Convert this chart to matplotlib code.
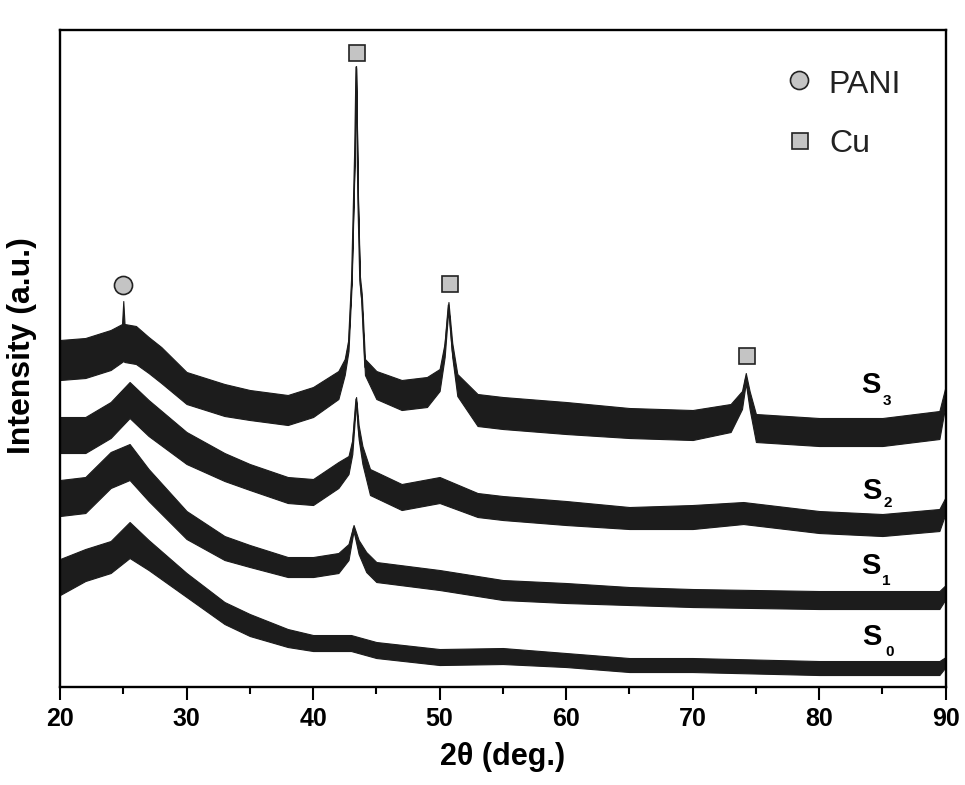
import matplotlib

matplotlib.use("Agg")

import matplotlib.pyplot as plt
import numpy as np
from matplotlib.ticker import MultipleLocator

plt.rcParams["font.family"] = ["Liberation Sans", "DejaVu Sans"]

# XRD traces: 2theta, mean intensity, half-width of the noise band (a.u.)
x_s3 = [20, 22, 24, 24.9, 25.0, 25.1, 26, 27, 28, 30, 33, 35, 38, 40, 42, 42.5, 42.8, 43.05, 43.3,
        43.4, 43.55, 43.7, 43.85, 44.1, 45, 47, 49, 50.0, 50.4, 50.7, 51.0, 51.4, 53, 55, 60,
        65, 70, 73, 73.9, 74.2, 74.5, 75, 80, 85, 89.5, 90]
y_s3 = [327, 329, 337, 344, 356, 344, 342, 332, 322, 299, 287, 282, 277, 285, 302, 320, 342, 407, 537,
        620, 487, 407, 387, 320, 302, 292, 295, 307, 337, 382, 337, 302, 277, 274, 269,
        264, 262, 269, 287, 309, 287, 259, 255, 255, 262, 292]
w_s3 = [20, 20, 20, 19, 30, 19, 19, 18, 18, 16, 16, 15, 15, 15, 14, 8, 6, 4, 3,
        1, 3, 4, 6, 8, 14, 15, 15, 11, 7, 3, 7, 11, 16, 16, 16,
        15, 15, 14, 9, 5, 9, 14, 14, 14, 14, 9]

x_s2 = [20, 22, 24, 25.5, 27, 30, 33, 35, 38, 40, 42, 42.8, 43.1, 43.4, 43.6, 43.9, 44.5, 47,
        50, 53, 55, 60, 65, 70, 74, 80, 85, 89.5, 90]
y_s2 = [252, 252, 267, 287, 269, 239, 220, 210, 197, 195, 212, 222, 240, 288, 255, 232, 205, 190,
        197, 182, 179, 174, 169, 170, 174, 165, 162, 167, 182]
w_s2 = [18, 18, 18, 18, 18, 16, 14, 13, 13, 13, 13, 9, 7, 2, 7, 9, 13, 13,
        13, 12, 12, 12, 11, 12, 11, 11, 11, 11, 8]

x_s1 = [20, 22, 24, 25.5, 27, 30, 33, 35, 38, 40, 42, 42.8, 43.2, 43.6, 44.2, 45, 50, 55, 60,
        65, 70, 80, 89.5, 90]
y_s1 = [189, 192, 217, 225, 202, 162, 139, 131, 120, 120, 124, 135, 159, 140, 125, 115, 107, 97, 94,
        91, 89, 87, 87, 95]
w_s1 = [18, 18, 18, 18, 16, 14, 12, 11, 10, 10, 10, 8, 3, 7, 10, 10, 10, 10, 10,
        9, 9, 9, 9, 7]

x_s0 = [20, 22, 24, 25.5, 27, 30, 33, 35, 38, 40, 43, 45, 50, 55, 60, 65, 70, 80, 89.5, 90]
y_s0 = [110, 122, 130, 147, 132, 102, 74, 62, 49, 44, 44, 37, 30, 31, 27, 22, 22, 19, 19, 25]
w_s0 = [18, 16, 16, 18, 15, 12, 11, 11, 9, 8, 8, 8, 8, 8, 7, 7, 7, 7, 7, 5]

series = [
    ("3", x_s3, y_s3, w_s3),
    ("2", x_s2, y_s2, w_s2),
    ("1", x_s1, y_s1, w_s1),
    ("0", x_s0, y_s0, w_s0),
]

# sample labels: (x, baseline) for "S" and its subscript
label_pos = {
    "3": ((83.3, 294), (85.0, 282)),
    "2": ((83.4, 188), (85.1, 180)),
    "1": ((83.3, 113), (85.0, 102)),
    "0": ((83.4, 42), (85.2, 31)),
}

# phase markers above the peaks
pani_x = [25.0]
pani_y = [402]
cu_x = [43.5, 50.8, 74.3]
cu_y = [634, 403, 331]

x_ticks = [20, 30, 40, 50, 60, 70, 80, 90]

trace_color = "#1c1c1c"

fig = plt.figure(figsize=(9.65, 7.85), dpi=100)
ax = fig.add_axes([0.0622, 0.1248, 0.9178, 0.837])

for name, xs, ys, ws in series:
    xs = np.asarray(xs, dtype=float)
    ys = np.asarray(ys, dtype=float)
    ws = np.asarray(ws, dtype=float)
    ax.fill_between(xs, ys - ws, ys + ws, color=trace_color, linewidth=0.8)
    ax.plot(xs, ys, color=trace_color, linewidth=1.0)
    (sx, sy), (dx, dy) = label_pos[name]
    ax.text(sx, sy, "S", fontsize=21, fontweight="bold", ha="left", va="baseline")
    ax.text(dx, dy, name, fontsize=11, fontweight="bold", ha="left", va="baseline")

marker_style = dict(linestyle="none", markerfacecolor="#c4c4c4", markeredgecolor="#222222",
                    markeredgewidth=1.2, clip_on=False, zorder=5)
ax.plot(pani_x, pani_y, marker="o", markersize=13, **marker_style)
ax.plot(cu_x, cu_y, marker="s", markersize=11.5, **marker_style)

# legend drawn by hand, as in the figure
ax.plot([0.834], [0.924], marker="o", markersize=13, transform=ax.transAxes, **marker_style)
ax.plot([0.836], [0.831], marker="s", markersize=11.5, transform=ax.transAxes, **marker_style)
ax.text(0.868, 0.904, "PANI", fontsize=23, transform=ax.transAxes, va="baseline", color="#222222")
ax.text(0.869, 0.814, "Cu", fontsize=23, transform=ax.transAxes, va="baseline", color="#222222")

ax.set_xlim(20, 90)
ax.set_ylim(0, 657)
ax.set_xticks(x_ticks)
ax.xaxis.set_minor_locator(MultipleLocator(5))
ax.set_yticks([])
ax.tick_params(axis="x", which="major", direction="out", length=9.5, width=1.5,
               labelsize=18, pad=5)
ax.tick_params(axis="x", which="minor", direction="out", length=5, width=1.5)
for label in ax.get_xticklabels():
    label.set_fontweight("bold")
for spine in ax.spines.values():
    spine.set_linewidth(1.7)

ax.set_xlabel("2\u03b8 (deg.)", fontsize=22, fontweight="bold", labelpad=8)
ax.set_ylabel("Intensity (a.u.)", fontsize=23, fontweight="bold")
ax.yaxis.set_label_coords(-0.026, 0.52)

fig.savefig("out.png", dpi=100)
plt.close(fig)
